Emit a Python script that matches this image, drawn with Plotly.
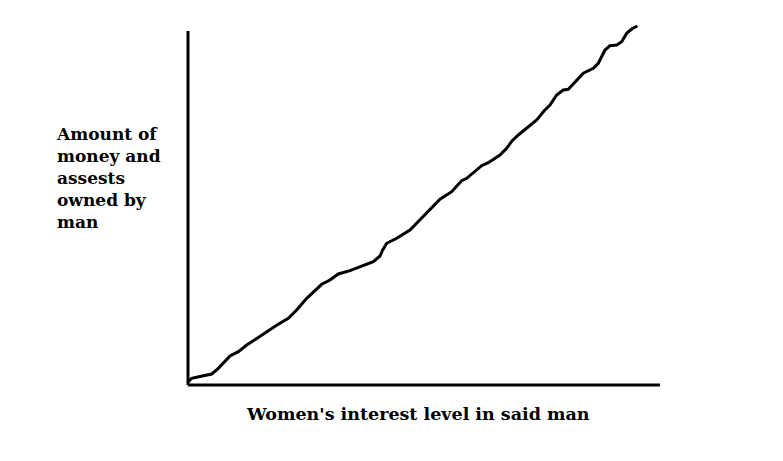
import plotly.graph_objects as go

# hand drawn curve (interest 0-100, money 0-100)
interest = [0.06, 0.78, 2.54, 5.02, 6.42, 7.63, 8.90, 10.66, 12.44, 14.41,
            16.67, 18.86, 21.25, 23.03, 25.15, 26.69, 28.33, 30.08, 31.84, 34.32,
            37.14, 39.26, 40.68, 41.25, 42.10, 44.22, 47.03, 49.85, 51.69, 53.39,
            55.87, 57.99, 59.05, 60.59, 62.22, 63.62, 66.10, 67.52, 68.64, 69.98,
            72.46, 73.88, 75.42, 76.69, 78.11, 79.51, 80.57, 82.20, 83.75, 85.87,
            86.93, 87.71, 88.35, 89.41, 90.83, 91.89, 92.94, 94.00, 95.19]
money = [0.93, 1.89, 2.40, 3.11, 4.72, 6.50, 8.19, 9.41, 11.30, 12.99,
         15.06, 16.95, 18.84, 21.19, 24.49, 26.55, 28.45, 29.66, 31.36, 32.29,
         33.70, 34.83, 36.44, 38.14, 40.03, 41.44, 43.79, 47.54, 50.28, 52.46,
         54.60, 57.71, 58.39, 60.17, 61.95, 62.80, 64.97, 66.86, 68.93, 70.62,
         73.45, 74.86, 77.40, 79.10, 81.92, 83.33, 83.53, 85.88, 88.05, 89.46,
         90.88, 92.94, 94.63, 95.85, 96.05, 96.98, 99.35, 100.56, 101.41]

y_label = "Amount of<br>money and<br>assests<br>owned by<br>man"
x_label = "Women's interest level in said man"

fig = go.Figure()
fig.add_trace(
    go.Scatter(
        x=interest,
        y=money,
        mode="lines",
        line=dict(color="black", width=3),
        showlegend=False,
        hoverinfo="skip"
    )
)

# axis lines drawn like the sketch (y axis stops short of the top)
fig.add_shape(type="line", xref="x", yref="y", x0=0, y0=0, x1=0, y1=100,
              line=dict(color="black", width=3))
fig.add_shape(type="line", xref="x", yref="y", x0=0, y0=0, x1=100, y1=0,
              line=dict(color="black", width=3))

fig.add_annotation(
    text="<b>" + y_label + "</b>",
    xref="paper", yref="paper",
    x=-0.2526, y=0.5798,
    xanchor="left", yanchor="middle",
    align="left",
    showarrow=False,
    font=dict(family="DejaVu Serif", size=17, color="black")
)
fig.add_annotation(
    text="<b>" + x_label + "</b>",
    xref="paper", yref="paper",
    x=0.4878, y=-0.0492,
    xanchor="center", yanchor="middle",
    showarrow=False,
    font=dict(family="DejaVu Serif", size=17.5, color="black")
)

# page body adds an 8px offset, so margins are shifted to compensate
fig.update_layout(
    width=783,
    height=461,
    autosize=False,
    margin=dict(l=170, r=121, t=12, b=73),
    plot_bgcolor="white",
    paper_bgcolor="white",
    xaxis=dict(range=[-2.12, 102.12], visible=False, fixedrange=True),
    yaxis=dict(range=[-3.107, 103.1], visible=False, fixedrange=True),
)

fig.write_html("out.html", config={"displayModeBar": False})
